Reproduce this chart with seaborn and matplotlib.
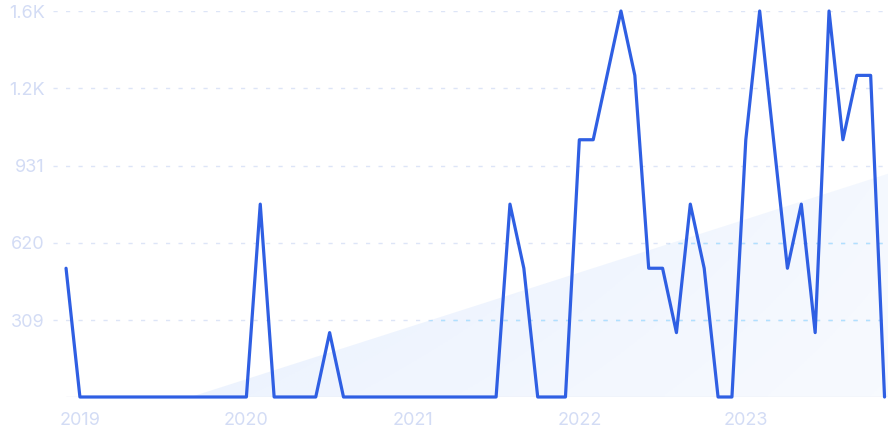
import numpy as np
import pandas as pd
import matplotlib
matplotlib.use("Agg")
import matplotlib.pyplot as plt
from matplotlib.patches import Polygon
import seaborn as sns

sns.set_style("white")
plt.rcParams['font.family'] = ['Inter', 'DejaVu Sans']

# monthly values, Dec 2018 .. Nov 2023
months = pd.date_range("2018-12-01", periods=60, freq="MS")
values = [518,
          0, 0, 0, 0, 0, 0, 0, 0, 0, 0, 0, 0,              # 2019
          0, 776, 0, 0, 0, 0, 259, 0, 0, 0, 0, 0,          # 2020
          0, 0, 0, 0, 0, 0, 0, 776, 518, 0, 0, 0,          # 2021
          1035, 1035, 1294, 1553, 1294, 518, 518, 259, 776, 518, 0, 0,  # 2022
          1035, 1553, 1035, 518, 776, 259, 1553, 1035, 1294, 1294, 0]   # 2023
ytick_vals = [309, 620, 931, 1242, 1553]
ytick_labels = ['309', '620', '931', '1.2K', '1.6K']
year_labels = ['2019', '2020', '2021', '2022', '2023']

df = pd.DataFrame({'month': months, 'value': values})
df['t'] = np.arange(len(df))
year_pos = df.index[df['month'].dt.month == 1].tolist()

fig = plt.figure(figsize=(8.88, 4.43), dpi=100)
ax = fig.add_axes([53/888, 46/443, 835/888, 386/443])
x0, x1 = -0.94, 59.25
ymax = ytick_vals[-1]

# linear trend, filled with a soft gradient
coef = np.polyfit(df['t'], df['value'], 1)
tt = np.linspace(x0, x1, 400)
trend = np.clip(np.polyval(coef, tt), 0, None)
verts = np.column_stack([np.r_[tt, tt[::-1]], np.r_[trend, np.zeros_like(trend)]])
patch = Polygon(verts, closed=True, facecolor='none', edgecolor='none')
ax.add_patch(patch)

gx, gy = np.meshgrid(np.linspace(0, 1, 300), np.linspace(0, 1, 120))
grad = np.zeros((120, 300, 4))
grad[..., 0] = 66/255
grad[..., 1] = 133/255
grad[..., 2] = 244/255
grad[..., 3] = 0.14 * (1 - 0.6 * gx) * (0.6 + 0.4 * gy) / 0.8
im = ax.imshow(grad, origin='lower', extent=[x0, x1, 0, ymax], aspect='auto', zorder=1)
im.set_clip_path(patch)

# grid
for v in ytick_vals:
    ax.axhline(v, color='#dde5f7', lw=1, ls=(0, (3, 6)), zorder=0.5)
    g = ax.axhline(v, color='#b0e0ff', lw=1, ls=(0, (3, 6)), zorder=1.5)
    g.set_clip_path(patch)
ax.plot([0, x1], [0, 0], color='#e8eaf0', lw=1, zorder=2)

sns.lineplot(data=df, x='t', y='value', color='#2f5fe3', lw=2.3, ax=ax, zorder=3)
ax.lines[-1].set_clip_on(False)

ax.set_xlim(x0, x1)
ax.set_ylim(0, ymax)
ax.set_xticks(year_pos, year_labels)
ax.set_yticks(ytick_vals, ytick_labels)
ax.tick_params(length=0, colors='#d3dcf5', labelsize=13)
ax.tick_params(axis='y', pad=6)
ax.tick_params(axis='x', pad=11)
ax.set_xlabel('')
ax.set_ylabel('')
sns.despine(ax=ax, left=True, bottom=True)

fig.savefig('out.png', dpi=100)
